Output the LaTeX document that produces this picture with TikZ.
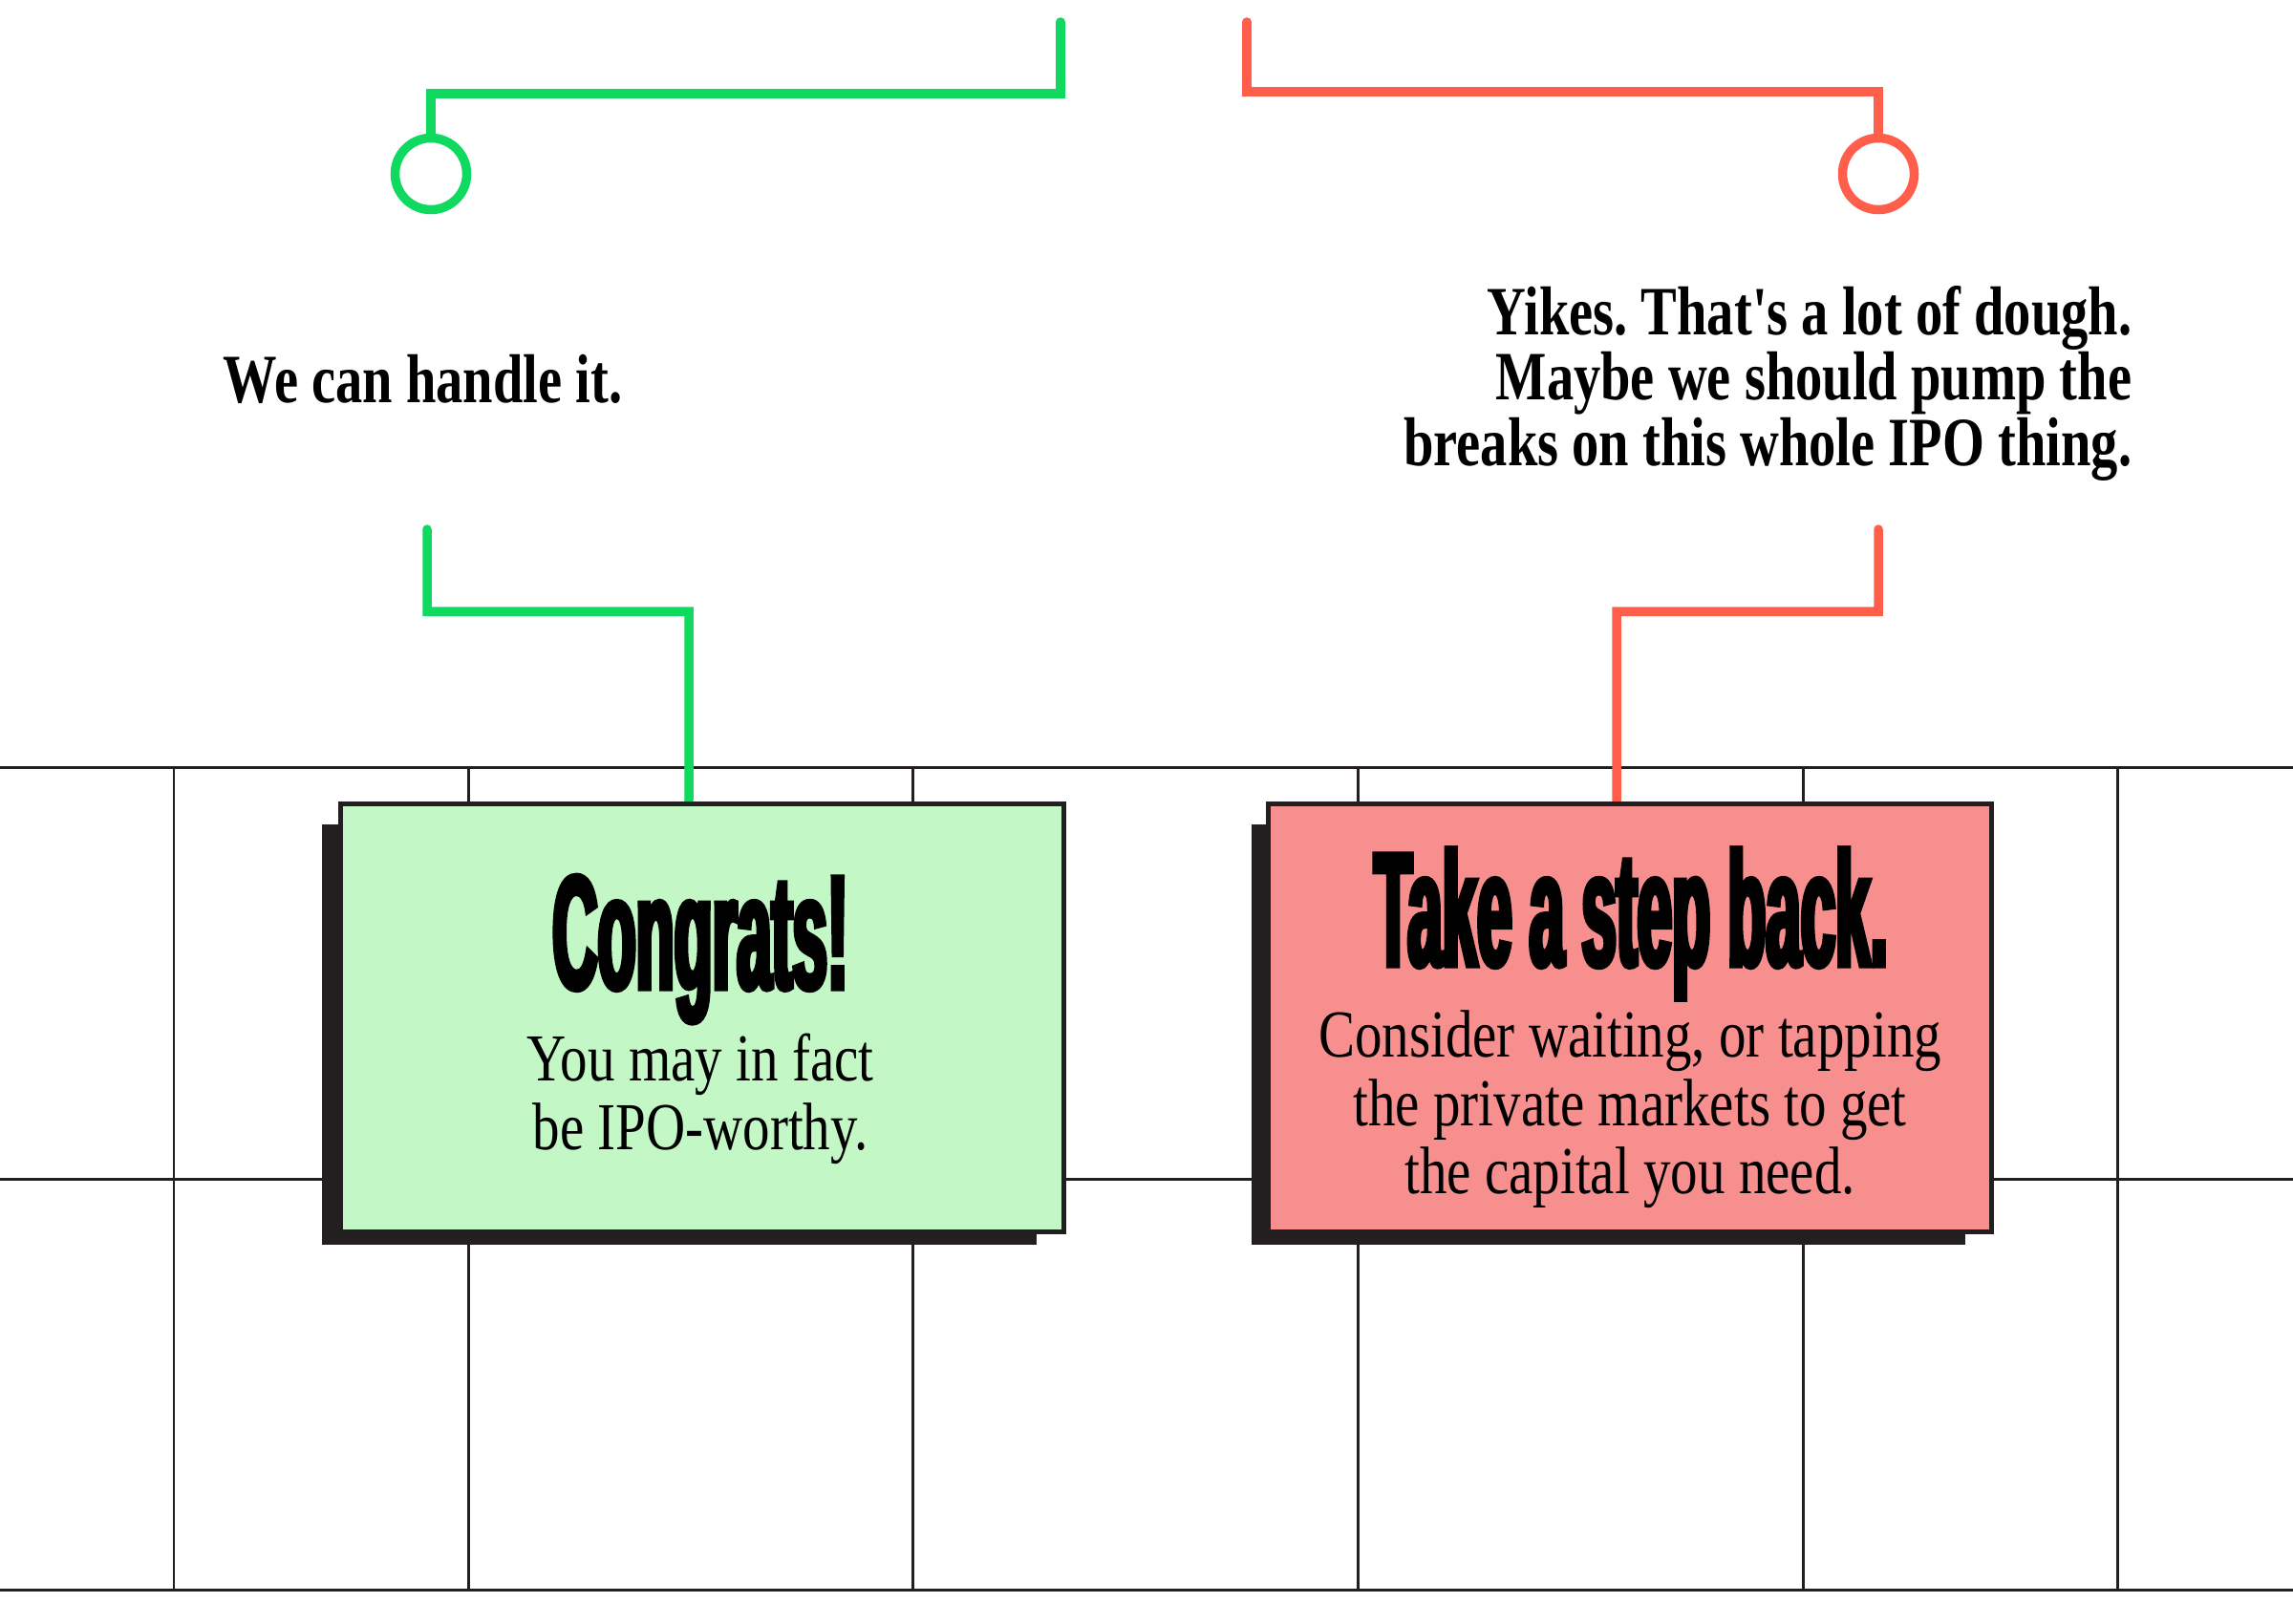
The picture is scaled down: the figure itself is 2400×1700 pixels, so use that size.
\documentclass[tikz,border=0pt]{standalone}
\usepackage{fontspec}
\newfontfamily\headfont[FakeStretch=0.385,FakeBold=3]{Liberation Sans}
\newfontfamily\callfont[FakeStretch=0.78]{Liberation Serif}
\newfontfamily\bodyfont[FakeStretch=0.81]{Liberation Serif}
\definecolor{ink}{HTML}{231F20}
\definecolor{lgreen}{HTML}{0FD95F}
\definecolor{lred}{HTML}{FF5F4A}
\definecolor{gfill}{HTML}{C4F7C6}
\definecolor{rfill}{HTML}{F78F8E}
\pgfdeclarelayer{background}
\pgfsetlayers{background,main}
\frenchspacing
\begin{document}
\begin{tikzpicture}[x=0.01cm,y=-0.01cm,
  gridline/.style={draw=ink,line width=0.85pt},
  gline/.style={draw=lgreen,line width=2.7pt,line cap=round},
  rline/.style={draw=lred,line width=2.7pt,line cap=round},
  dot/.style={circle,line width=2.7pt,minimum size=0.75cm,inner sep=0pt,outer sep=0pt},
  card/.style={draw=ink,line width=1.56pt,minimum width=7.565cm,minimum height=4.475cm,inner sep=0pt,outer sep=0pt},
  shade/.style={fill=ink},
  head/.style={inner sep=0pt,anchor=base,font=\headfont\bfseries\fontsize{48.4}{50}\selectfont},
  body/.style={inner sep=0pt,anchor=base,font=\bodyfont\fontsize{20}{24}\selectfont},
  callout/.style={inner sep=0pt,font=\callfont\bfseries\fontsize{20.6}{24}\selectfont}]
\useasboundingbox (0,0) rectangle (2400,1700);

% shadows and cards
\fill[shade] (337,863) rectangle (1085,1303);
\fill[shade] (1310,863) rectangle (2057,1303);
\node[card,fill=gfill] (gbox) at (735,1065.5) {};
\node[card,fill=rfill] (rbox) at (1706,1065.5) {};

% circles
\node[dot,draw=lgreen] (gdot) at (451,182) {};
\node[dot,draw=lred] (rdot) at (1966,182) {};

% connector end points
\coordinate (gtop) at (1110,23);
\coordinate (rtop) at (1305,23);
\coordinate (gmid) at (447,554);
\coordinate (rmid) at (1966,554);

\begin{pgfonlayer}{background}
  \fill[white] (0,0) rectangle (2400,1700);
  % grid
  \foreach \yy in {803,1234,1664} \draw[gridline] (0,\yy) -- (2400,\yy);
  \foreach \xx in {182,490,955,1421,1887,2216} \draw[gridline] (\xx,803) -- (\xx,1664);
  % connectors
  \draw[gline] (gtop) -- (1110,98) -- (451,98) -- (gdot.north);
  \draw[rline] (rtop) -- (1305,96) -- (1966,96) -- (rdot.north);
  \draw[gline] (gmid) -- (447,640) -- (721,640) -- ([xshift=-0.14cm]gbox.north);
  \draw[rline] (rmid) -- (1966,640) -- (1692,640) -- ([xshift=-0.14cm]rbox.north);
\end{pgfonlayer}

% answers
\node[callout,anchor=base west] (yes) at (233,421) {We can handle it.};
\node[callout,anchor=base east] (no1) at (2232,350) {Yikes. That's a lot of dough.};
\node[callout,anchor=base east] (no2) at (2232,418) {Maybe we should pump the};
\node[callout,anchor=base east] (no3) at (2232,487) {breaks on this whole IPO thing.};

% green card text
\node[head] (ghead) at (733,1035) {Congrats!};
\node[body] (gb1) at (733,1131) {You may in fact};
\node[body] (gb2) at (733,1203) {be IPO-worthy.};

% red card text
\node[head] (rhead) at (1707,1011) {Take a step back.};
\node[body] (rb1) at (1706,1106) {Consider waiting, or tapping};
\node[body] (rb2) at (1706,1178) {the private markets to get};
\node[body] (rb3) at (1706,1249) {the capital you need.};
\end{tikzpicture}
\end{document}
